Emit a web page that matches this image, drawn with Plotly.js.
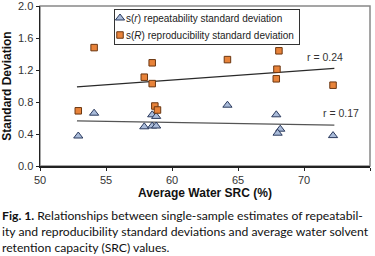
<!DOCTYPE html>
<html>
<head>
<meta charset="utf-8">
<script src="https://cdn.plot.ly/plotly-3.0.1.min.js"></script>
<style>
  html, body { margin: 0; padding: 0; background: #fff; }
  #chart { width: 375px; height: 256px; }
</style>
</head>
<body>
<div id="chart"></div>
<script>
// Average water SRC (%) per sample and the two standard deviation estimates
const srcRepeat = [52.9, 54.1, 57.9, 58.5, 58.8, 58.5, 58.8, 64.2, 67.9, 68.2, 68.0, 72.2];
const sdRepeat  = [0.375, 0.66, 0.49, 0.64, 0.62, 0.50, 0.50, 0.76, 0.64, 0.46, 0.41, 0.38];

const srcReprod = [54.1, 58.5, 57.9, 58.5, 64.2, 68.1, 67.95, 67.9, 72.2, 52.9, 58.7, 58.9];
const sdReprod  = [1.48, 1.29, 1.11, 1.03, 1.33, 1.44, 1.21, 1.09, 1.01, 0.69, 0.75, 0.70];

// Linear trend line end points
const trendX        = [52.8, 72.3];
const trendRepeatY  = [0.565, 0.51];
const trendReprodY  = [0.99, 1.22];

// Axis ticks
const xTicks = [50, 55, 60, 65, 70, 75];
const yTicks = [0, 0.4, 0.8, 1.2, 1.6, 2.0];

// Correlation coefficients shown next to each trend
const rLabels = ["r = 0.24", "r = 0.17"];
const rPosX   = [71.6, 72.8];
const rPosY   = [1.36, 0.66];

const captionLines = [
  "<b>Fig. 1.</b> Relationships between single-sample estimates of repeatabil-",
  "ity and reproducibility standard deviations and average water solvent",
  "retention capacity (SRC) values."
];

const axisFont = { family: "Arial, Liberation Sans, sans-serif", size: 11, color: "#333" };
const legendFont = { family: "Arial, Liberation Sans, sans-serif", size: 10, color: "#222" };
const titleFont = { family: "Arial, Liberation Sans, sans-serif", size: 12, color: "#111", weight: "bold" };

const traces = [
  {
    x: trendX, y: trendReprodY, mode: "lines", showlegend: false, hoverinfo: "skip",
    line: { color: "#2a2a2a", width: 1.3 }
  },
  {
    x: trendX, y: trendRepeatY, mode: "lines", showlegend: false, hoverinfo: "skip",
    line: { color: "#555", width: 1.3 }
  },
  {
    x: srcRepeat, y: sdRepeat, mode: "markers", type: "scatter",
    name: "s(<i>r</i>) repeatability standard deviation",
    marker: { symbol: "triangle-up", size: 8, color: "#a9bbd9", line: { color: "#2b3a5e", width: 1 } }
  },
  {
    x: srcReprod, y: sdReprod, mode: "markers", type: "scatter",
    name: "s(<i>R</i>) reproducibility standard deviation",
    marker: { symbol: "square", size: 6.5, color: "#e8833a", line: { color: "#6b3610", width: 1 } }
  }
];

const annotations = rLabels.map((t, i) => ({
  x: rPosX[i], y: rPosY[i], xref: "x", yref: "y", text: t, showarrow: false,
  font: { family: axisFont.family, size: 10.5, color: "#333" }, xanchor: "center", yanchor: "middle"
}));

captionLines.forEach((t, i) => {
  annotations.push({
    xref: "paper", yref: "paper", x: -40 / 330, y: (166 - 215 - 16 * i) / 160,
    xanchor: "left", yanchor: "middle", align: "left", showarrow: false, text: t,
    font: { family: "Lato, Noto Sans, sans-serif", size: 12.2, color: "#111" }
  });
});

const layout = {
  width: 375, height: 256,
  margin: { l: 40, r: 5, t: 6, b: 90 },
  paper_bgcolor: "#fff", plot_bgcolor: "#fff",
  showlegend: true,
  legend: {
    x: (114 - 40) / 330, y: (166 - 9) / 160, xanchor: "left", yanchor: "top",
    bgcolor: "#fff", bordercolor: "#333", borderwidth: 1,
    font: legendFont, itemwidth: 30, tracegroupgap: 0
  },
  xaxis: {
    range: [50, 75], tickvals: xTicks, showgrid: false, zeroline: false,
    showline: true, linecolor: "#222", linewidth: 1.5,
    ticks: "outside", ticklen: 3, tickcolor: "#222", tickfont: axisFont,
    title: { text: "Average Water SRC (%)", standoff: 4, font: titleFont }
  },
  yaxis: {
    range: [0, 2.0], tickvals: yTicks, tickformat: ".1f", showgrid: false, zeroline: false,
    showline: true, linecolor: "#222", linewidth: 1.5,
    ticks: "outside", ticklen: 3, tickcolor: "#222", tickfont: axisFont,
    title: { text: "Standard Deviation", standoff: 4, font: titleFont }
  },
  shapes: [
    { type: "rect", xref: "paper", yref: "paper", x0: 0, x1: 1, y0: 0, y1: 1,
      line: { color: "#888", width: 1.5 }, layer: "below" }
  ],
  annotations: annotations
};

Plotly.newPlot("chart", traces, layout, { displayModeBar: false, staticPlot: true }).then(gd => {
  // Keep the top y tick label visible even though it touches the top edge
  gd.querySelectorAll(".ytick text").forEach(t => { t.style.display = "block"; });

  // Compact legend: symbols and labels hug the left edge, rows packed tighter
  const leg = gd.querySelector(".legend");
  if (!leg) return;
  const textX = 11, symX = 5, rowTop = 9, rowGap = 17, padRight = 4;
  let maxLen = 0;
  leg.querySelectorAll(".traces").forEach((g, i) => {
    g.setAttribute("transform", "translate(1," + (rowTop + rowGap * i) + ")");
    const t = g.querySelector(".legendtext");
    if (t) {
      t.setAttribute("x", textX);
      t.querySelectorAll("tspan[x]").forEach(s => s.setAttribute("x", textX));
      maxLen = Math.max(maxLen, t.getComputedTextLength());
    }
    g.querySelectorAll(".legendpoints path").forEach(p => {
      p.setAttribute("transform", "translate(" + symX + ",0)");
    });
  });
  const bg = leg.querySelector(".bg");
  if (bg) {
    bg.setAttribute("width", Math.round(maxLen + textX + padRight + 2));
    bg.setAttribute("height", rowTop * 2 + rowGap);
  }
});
</script>
</body>
</html>
